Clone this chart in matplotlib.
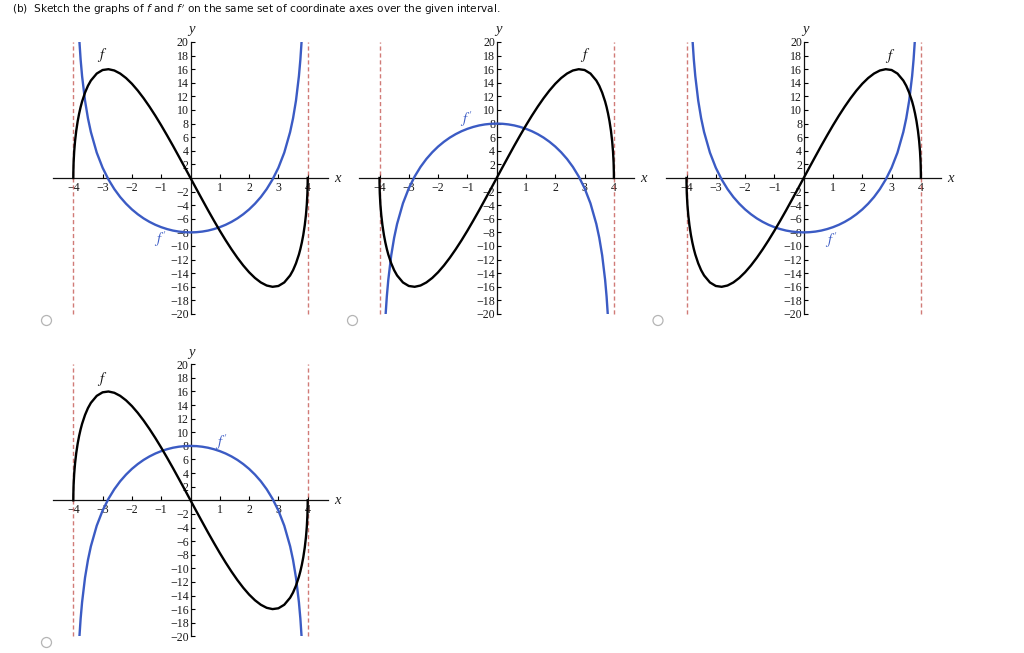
import matplotlib
matplotlib.use("Agg")
import matplotlib.pyplot as plt
from matplotlib.patches import Rectangle, Ellipse
import numpy as np

# ---- data ----
# x samples across [-4, 4]
x_vals = [-4.0, -3.999, -3.99, -3.97, -3.94, -3.9, -3.85, -3.8, -3.75, -3.7, -3.6, -3.5,
          -3.4, -3.2, -3.0, -2.8, -2.6, -2.4, -2.2, -2.0, -1.8, -1.6, -1.4, -1.2, -1.0,
          -0.8, -0.6, -0.4, -0.2, 0.0, 0.2, 0.4, 0.6, 0.8, 1.0, 1.2, 1.4, 1.6, 1.8, 2.0,
          2.2, 2.4, 2.6, 2.8, 3.0, 3.2, 3.4, 3.5, 3.6, 3.7, 3.75, 3.8, 3.85, 3.9, 3.94,
          3.97, 3.99, 3.999, 4.0]
# rising curve (max 16 near x=2.83, min -16 near x=-2.83)
f_rise = [0.0, -0.72, -2.26, -3.88, -5.44, -6.93, -8.36, -9.49, -10.44, -11.25, -12.55, -13.56,
          -14.33, -15.36, -15.88, -16.00, -15.81, -15.36, -14.70, -13.86, -12.86, -11.73, -10.49, -9.16, -7.75,
          -6.27, -4.75, -3.18, -1.60, 0.0, 1.60, 3.18, 4.75, 6.27, 7.75, 9.16, 10.49, 11.73, 12.86, 13.86,
          14.70, 15.36, 15.81, 16.00, 15.88, 15.36, 14.33, 13.56, 12.55, 11.25, 10.44, 9.49, 8.36, 6.93, 5.44,
          3.88, 2.26, 0.72, 0.0]
# hump-shaped derivative curve (8 at x=0, zero near +/-2.83, diving near +/-4)
x_der = [-3.85, -3.8, -3.75, -3.7, -3.6, -3.5, -3.4, -3.2, -3.0, -2.8, -2.6, -2.4, -2.2, -2.0,
         -1.8, -1.6, -1.4, -1.2, -1.0, -0.8, -0.6, -0.4, -0.2, 0.0, 0.2, 0.4, 0.6, 0.8, 1.0,
         1.2, 1.4, 1.6, 1.8, 2.0, 2.2, 2.4, 2.6, 2.8, 3.0, 3.2, 3.4, 3.5, 3.6, 3.7, 3.75, 3.8, 3.85]
fp_hump = [-25.15, -20.62, -17.42, -14.98, -11.38, -8.78, -6.76, -3.73, -1.51, 0.22, 1.63, 2.80, 3.78, 4.62,
           5.33, 5.94, 6.45, 6.88, 7.23, 7.51, 7.73, 7.88, 7.97, 8.00, 7.97, 7.88, 7.73, 7.51, 7.23,
           6.88, 6.45, 5.94, 5.33, 4.62, 3.78, 2.80, 1.63, 0.22, -1.51, -3.73, -6.76, -8.78, -11.38, -14.98, -17.42, -20.62, -25.15]

# orientation of f and f' in each of the four choices
f_sign = [-1, 1, 1, -1]
fp_sign = [-1, 1, -1, 1]
f_label_pos = [(-3.02, 18.1), (3.02, 18.1), (2.96, 17.9), (-3.03, 17.8)]
fp_label_pos = [(-1.04, -9.0), (-1.05, 8.6), (0.95, -9.1), (1.05, 8.6)]

x_ticks = [-4, -3, -2, -1, 1, 2, 3, 4]
x_tick_labels = ["\u22124", "\u22123", "\u22122", "\u22121", "1", "2", "3", "4"]
y_ticks = [-20, -18, -16, -14, -12, -10, -8, -6, -4, -2, 2, 4, 6, 8, 10, 12, 14, 16, 18, 20]
y_tick_labels = [("\u2212%d" % -v) if v < 0 else str(v) for v in y_ticks]

# ---- layout (pixels) ----
W, H = 1024, 653
origins = [(190.5, 178.0), (496.7, 178.0), (803.7, 178.0), (190.5, 500.3)]
sx, sy = 29.3, 6.8
xlo, xhi, ylo, yhi = -5.2, 5.4, -22.0, 23.0
circles = [(46.5, 320.5), (352.5, 320.5), (658.0, 320.5), (46.5, 642.5)]

BLUE = "#3b5bc4"
RED = "#c9645f"
SERIF = ["Liberation Serif", "DejaVu Serif"]

fig = plt.figure(figsize=(W / 100, H / 100), dpi=100)

fig.text(12 / W, 1 - 10 / H,
         "(b)  Sketch the graphs of $f$ and $f\\,'$ on the same set of coordinate axes over the given interval.",
         fontsize=7.6, family="DejaVu Sans", va="center", ha="left", color="#111111")

for i, (ox, oy) in enumerate(origins):
    left = (ox + xlo * sx) / W
    width = (xhi - xlo) * sx / W
    top = oy - yhi * sy
    height = (yhi - ylo) * sy / H
    bottom = 1 - (top / H) - height
    ax = fig.add_axes([left, bottom, width, height])
    ax.set_facecolor("none")
    ax.set_xlim(xlo, xhi)
    ax.set_ylim(ylo, yhi)
    for s in ("top", "right"):
        ax.spines[s].set_visible(False)
    ax.spines["left"].set_position(("data", 0))
    ax.spines["bottom"].set_position(("data", 0))
    ax.spines["left"].set_bounds(-20, 20)
    ax.spines["bottom"].set_bounds(-4.69, 4.69)
    for s in ("left", "bottom"):
        ax.spines[s].set_linewidth(0.9)
        ax.spines[s].set_color("#111111")
        ax.spines[s].set_zorder(1)
    ax.set_xticks(x_ticks)
    ax.set_xticklabels(x_tick_labels)
    ax.set_yticks(y_ticks)
    ax.set_yticklabels(y_tick_labels)
    ax.tick_params(axis="x", direction="in", length=3.0, width=0.8, pad=2.6,
                   labelsize=8.6, labelcolor="#1a1a1a")
    ax.tick_params(axis="y", direction="in", length=3.0, width=0.8, pad=1.2,
                   labelsize=8.6, labelcolor="#1a1a1a")
    for lab in ax.get_xticklabels() + ax.get_yticklabels():
        lab.set_family(SERIF)

    # interval boundaries
    for xb in (-4, 4):
        ax.plot([xb, xb], [-20, 20], color=RED, lw=1.0, ls=(0, (3, 2)), alpha=0.85, zorder=2)

    clip = Rectangle((-5, -20), 10, 40, transform=ax.transData)
    fy = [f_sign[i] * v for v in f_rise]
    fpy = [fp_sign[i] * v for v in fp_hump]
    l1, = ax.plot(x_der, fpy, color=BLUE, lw=1.7, zorder=3)
    l1.set_clip_path(clip)
    l2, = ax.plot(x_vals, fy, color="black", lw=1.7, zorder=4)

    ax.text(f_label_pos[i][0], f_label_pos[i][1], "$f$", math_fontfamily="stix",
            fontsize=10.5, color="#111111", ha="center", va="center")
    ax.text(fp_label_pos[i][0], fp_label_pos[i][1], "$f\\,'$", math_fontfamily="stix",
            fontsize=10.5, color=BLUE, ha="center", va="center")
    ax.text(0.05, 21.8, "y", style="italic", family=SERIF, fontsize=10.5, ha="center", va="center",
            color="#222222")
    ax.text(5.0, 0.0, "x", style="italic", family=SERIF, fontsize=10.5, ha="center", va="center",
            color="#222222")

for (cx, cy) in circles:
    fig.add_artist(Ellipse((cx / W, 1 - cy / H), width=10 / W, height=10 / H,
                           transform=fig.transFigure, fill=False, ec="#b5b5b5", lw=0.9))

fig.savefig("out.png", dpi=100)
